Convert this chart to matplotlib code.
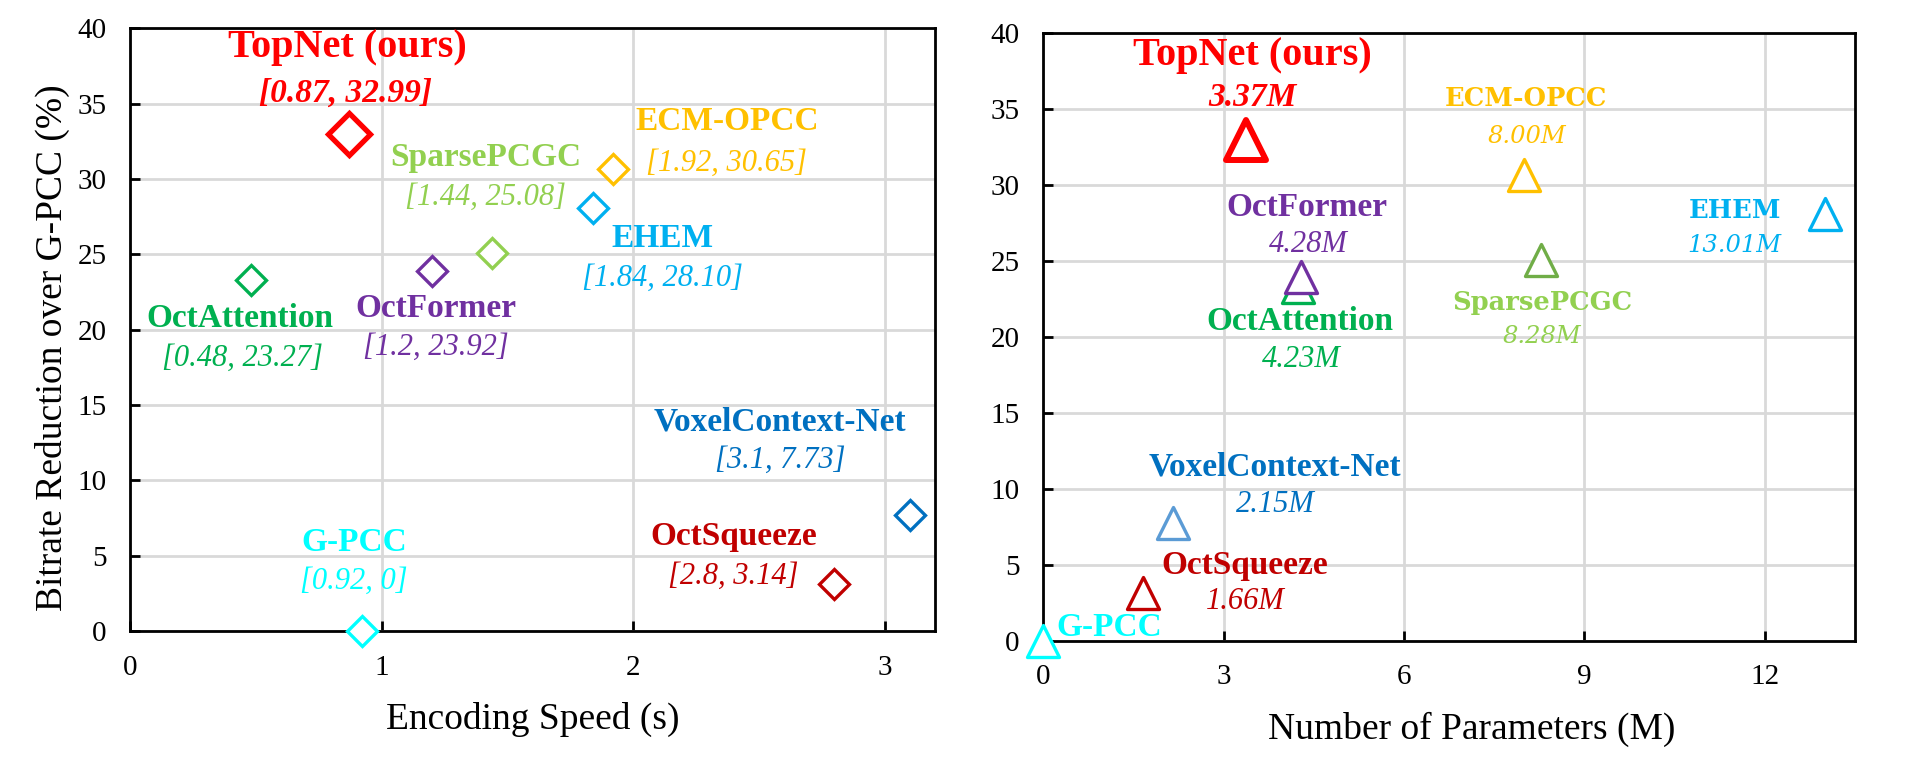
import matplotlib
matplotlib.use('Agg')
import matplotlib.pyplot as plt
from matplotlib.markers import MarkerStyle

plt.rcParams['font.family'] = ['Liberation Serif', 'DejaVu Serif']

##################################################################
# data
##################################################################
methods = ['TopNet (ours)', 'ECM-OPCC', 'SparsePCGC', 'EHEM', 'OctAttention',
           'OctFormer', 'VoxelContext-Net', 'OctSqueeze', 'G-PCC']
enc_speed = [0.87, 1.92, 1.44, 1.84, 0.48, 1.2, 3.1, 2.8, 0.92]
bitrate_red = [32.99, 30.65, 25.08, 28.10, 23.27, 23.92, 7.73, 3.14, 0]
num_params = [3.37, 8.00, 8.28, 13.01, 4.23, 4.28, 2.15, 1.66, 0]
speed_text = ['[0.87, 32.99]', '[1.92, 30.65]', '[1.44, 25.08]', '[1.84, 28.10]',
              '[0.48, 23.27]', '[1.2, 23.92]', '[3.1, 7.73]', '[2.8, 3.14]', '[0.92, 0]']
param_text = ['3.37M', '8.00M', '8.28M', '13.01M', '4.23M', '4.28M', '2.15M', '1.66M', '']

speed_ticks = [0, 1, 2, 3]
param_ticks = [0, 3, 6, 9, 12]
y_ticks = [0, 5, 10, 15, 20, 25, 30, 35, 40]

##################################################################
# styles
##################################################################
colors = {
    'TopNet (ours)': '#FF0000',
    'ECM-OPCC': '#FFC000',
    'SparsePCGC': '#92D050',
    'EHEM': '#00B0F0',
    'OctAttention': '#00B050',
    'OctFormer': '#7030A0',
    'VoxelContext-Net': '#0070C0',
    'OctSqueeze': '#C00000',
    'G-PCC': '#00FFFF',
}
right_marker_colors = dict(colors)
right_marker_colors['SparsePCGC'] = '#70AD47'
right_marker_colors['VoxelContext-Net'] = '#5B9BD5'

# label positions (name xy, value xy) in data coordinates
left_pos = {
    'TopNet (ours)': ((0.862, 38.7), (0.855, 35.7)),
    'ECM-OPCC': ((2.372, 33.8), (2.372, 31.05)),
    'SparsePCGC': ((1.414, 31.45), (1.414, 28.8)),
    'EHEM': ((2.118, 26.07), (2.118, 23.4)),
    'OctAttention': ((0.437, 20.75), (0.447, 18.1)),
    'OctFormer': ((1.216, 21.4), (1.216, 18.85)),
    'VoxelContext-Net': ((2.583, 13.85), (2.583, 11.3)),
    'OctSqueeze': ((2.398, 6.3), (2.396, 3.65)),
    'G-PCC': ((0.89, 5.9), (0.89, 3.3)),
}
right_pos = {
    'TopNet (ours)': ((3.47, 38.57), (3.47, 35.8)),
    'ECM-OPCC': ((8.02, 35.7), (8.05, 33.2)),
    'SparsePCGC': ((8.3, 22.3), (8.3, 20.0)),
    'EHEM': ((11.5, 28.3), (11.5, 26.0)),
    'OctAttention': ((4.26, 21.0), (4.29, 18.5)),
    'OctFormer': ((4.39, 28.55), (4.41, 26.06)),
    'VoxelContext-Net': ((3.86, 11.44), (3.86, 9.0)),
    'OctSqueeze': ((3.35, 4.92), (3.36, 2.55)),
    'G-PCC': ((0.21, 0.9), None),
}
wide_font = ['ECM-OPCC', 'SparsePCGC', 'EHEM']


def style_axes(ax, xticks, xmax):
    ax.set_xlim(0, xmax)
    ax.set_ylim(0, 40)
    ax.set_xticks(xticks)
    ax.set_yticks(y_ticks)
    ax.grid(True, color='#D9D9D9', lw=2)
    ax.set_axisbelow(True)
    for sp in ax.spines.values():
        sp.set_linewidth(2)
        sp.set_color('black')
    ax.tick_params(direction='in', length=7, width=2, labelsize=21, pad=17)


fig = plt.figure(figsize=(19.24, 7.68), dpi=100)
ax1 = fig.add_axes([0.0676, 0.1784, 0.4184, 0.7848])
ax2 = fig.add_axes([0.5423, 0.1658, 0.4218, 0.7908])

##################################################################
# left: encoding speed
##################################################################
style_axes(ax1, speed_ticks, 3.2)
for i, name in enumerate(methods):
    big = name.startswith('TopNet')
    ax1.plot(enc_speed[i], bitrate_red[i], marker='D', ls='none',
             ms=21 if big else 15.5, mfc='white', mec=colors[name],
             mew=3.8 if big else 2.4, clip_on=False, zorder=5)
    (nx, ny), (vx, vy) = left_pos[name]
    ax1.text(nx, ny, name, color=colors[name], fontsize=29 if big else 24,
             fontweight='bold', ha='center', va='center', zorder=6)
    ax1.text(vx, vy, speed_text[i], color=colors[name], fontsize=24 if big else 22,
             fontstyle='italic', fontweight='bold' if big else 'normal',
             ha='center', va='center', zorder=6)
ax1.set_xlabel('Encoding Speed (s)', fontsize=27)
ax1.xaxis.set_label_coords(0.5, -0.117)
ax1.set_ylabel('Bitrate Reduction over G-PCC (%)', fontsize=27)
ax1.yaxis.set_label_coords(-0.075, 0.47)

##################################################################
# right: number of parameters
##################################################################
style_axes(ax2, param_ticks, 13.5)
tri = MarkerStyle('^', joinstyle='round')
for i, name in enumerate(methods):
    big = name.startswith('TopNet')
    ax2.plot(num_params[i], bitrate_red[i], marker=tri, ls='none',
             ms=29.5 if big else 23, mfc='white', mec=right_marker_colors[name],
             mew=4.3 if big else 2.4, clip_on=False, zorder=5)
    name_xy, val_xy = right_pos[name]
    fam = ['DejaVu Serif'] if name in wide_font else ['Liberation Serif']
    if name == 'G-PCC':
        ax2.text(name_xy[0], name_xy[1], name, color=colors[name], fontsize=24,
                 fontweight='bold', ha='left', va='center', zorder=6)
        continue
    ax2.text(name_xy[0], name_xy[1], name, color=colors[name],
             fontsize=29 if big else (18.5 if name in wide_font else 24),
             fontweight='bold', family=fam, ha='center', va='center', zorder=6)
    ax2.text(val_xy[0], val_xy[1], param_text[i], color=colors[name],
             fontsize=24 if big else (17.5 if name in wide_font else 22),
             fontstyle='italic', fontweight='bold' if big else 'normal',
             family=fam, ha='center', va='center', zorder=6)
ax2.set_xlabel('Number of Parameters (M)', fontsize=27)
ax2.xaxis.set_label_coords(0.528, -0.117)

fig.savefig('out.png', dpi=100)
